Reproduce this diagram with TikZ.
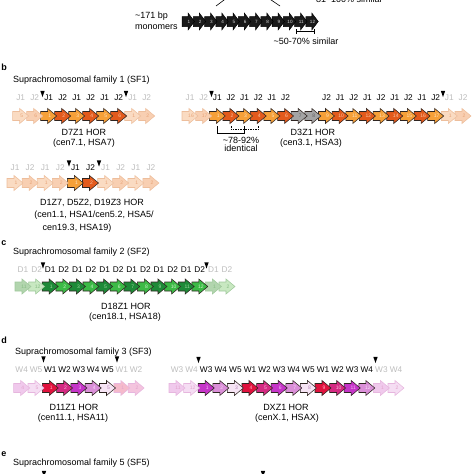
\documentclass[tikz,border=0pt]{standalone}
\usepackage{fontspec}
\setmainfont{Liberation Sans}
\definecolor{ink}{HTML}{2E2420}
\definecolor{labg}{HTML}{BDBDBD}
\definecolor{blk}{HTML}{1A1A1A}
% SF1 oranges
\definecolor{jA}{HTML}{F6A038}
\definecolor{jB}{HTML}{E35A1C}
\definecolor{jAf}{HTML}{FADBC2}
\definecolor{jBf}{HTML}{F8CFB2}
\definecolor{jfs}{HTML}{EDBE9C}
\definecolor{jfn}{HTML}{E8A478}
\definecolor{jAn}{HTML}{FDE2BE}
\definecolor{jBn}{HTML}{F9C3A2}
\definecolor{gry}{HTML}{A4A4A4}
\definecolor{gryn}{HTML}{5E5E5E}
% SF2 greens
\definecolor{dA}{HTML}{1E8A38}
\definecolor{dB}{HTML}{3CBA46}
\definecolor{dAf}{HTML}{B2D5AE}
\definecolor{dBf}{HTML}{C8E8C1}
\definecolor{dfs}{HTML}{9FC89B}
\definecolor{dfn}{HTML}{86BC83}
\definecolor{dAn}{HTML}{9EDCA0}
\definecolor{dBn}{HTML}{CFF2C8}
% SF3 pinks
\definecolor{wa}{HTML}{E0123E}
\definecolor{wb}{HTML}{D42A82}
\definecolor{wc}{HTML}{C535C8}
\definecolor{wd}{HTML}{DA8FD8}
\definecolor{we}{HTML}{F6E4F4}
\definecolor{wan}{HTML}{FFB3C2}
\definecolor{wbn}{HTML}{F8BADB}
\definecolor{wcn}{HTML}{F3B8F3}
\definecolor{wdn}{HTML}{F7DAF6}
\definecolor{wen}{HTML}{B884B8}
\definecolor{wfa}{HTML}{F0C9EC}
\definecolor{wfb}{HTML}{F5DDF3}
\definecolor{wfc}{HTML}{F5BACB}
\definecolor{wfd}{HTML}{F4C4DE}
\definecolor{wfs}{HTML}{E6B6DE}
\definecolor{wfn}{HTML}{E2A2CC}
\tikzset{
  lab/.style={font=\fontsize{8.3}{9}\selectfont, inner sep=0pt},
  txt/.style={font=\fontsize{9}{10}\selectfont, inner sep=0pt},
  num/.style={font=\fontsize{5}{5}\selectfont, inner sep=0pt},
  bnum/.style={font=\fontsize{4.6}{5}\selectfont, inner sep=0pt, text=white!85!black},
  panel/.style={font=\fontsize{9}{10}\selectfont\bfseries, inner sep=0pt},
}
\newcommand{\marrow}[7]{%
  \begin{scope}[shift={(#1,#2)}]
    \filldraw[fill=#3,draw=#4,line width=0.55pt,line join=miter]
      (-8,-4.5) -- (-1,-4.5) -- (-1,-7.5) -- (8,0) -- (-1,7.5) -- (-1,4.5) -- (-8,4.5) -- cycle;
    \node[num,text=#6] (#7) at (1,0) {#5};
  \end{scope}}
\newcommand{\barrow}[4]{%
  \begin{scope}[shift={(#1,#2)}]
    \filldraw[fill=blk,draw=black,line width=0.5pt,line join=miter]
      (-6,-5) -- (0,-5) -- (0,-8.5) -- (6.5,0) -- (0,8.5) -- (0,5) -- (-6,5) -- cycle;
    \node[bnum] (#4) at (0.8,0) {#3};
  \end{scope}}
\newcommand{\hmark}[3]{%
  \fill[black] (#1-2.2,#2-3.2) -- (#1+2.2,#2-3.2) -- (#1,#2+3) -- cycle;
  \coordinate (#3) at (#1,#2);}
\begin{document}
\begin{tikzpicture}[x=1pt,y=-1pt]
\useasboundingbox (0,0) rectangle (474,474);

% ---------------- panel a (cut off) ----------------
\coordinate (fanLa) at (226.5,-1.8);
\coordinate (fanLb) at (216,6);
\coordinate (fanRa) at (268.5,-1.8);
\coordinate (fanRb) at (280,6);
\draw[line width=0.6pt] (fanLa) -- (fanLb);
\draw[line width=0.6pt] (fanRa) -- (fanRb);
\node[txt, anchor=base west] (sim81) at (316,2.6) {81--100\% similar};
\node[txt, anchor=west] (bp) at (135,16) {\textasciitilde171 bp};
\node[txt, anchor=west] (mono) at (135,26.7) {monomers};
\foreach \i in {11,10,...,0}{
  \pgfmathtruncatemacro{\nn}{\i+1}
  \barrow{188+11.25*\i}{21.5}{\nn}{top\i}
}
\coordinate (brL) at (296,31.7);
\coordinate (brR) at (314,31.7);
\draw[line width=0.6pt] (brL) -- (brR);
\draw[line width=0.6pt] ([yshift=2.5pt]brL) -- ([yshift=-2.5pt]brL);
\draw[line width=0.6pt] ([yshift=2.5pt]brR) -- ([yshift=-2.5pt]brR);
\node[txt] (sim50) at (306,41.7) {\textasciitilde50-70\% similar};

% ---------------- panel b ----------------
\node[panel] (pb) at (4,67) {b};
\node[txt, anchor=west] (sf1) at (13,80) {Suprachromosomal family 1 (SF1)};

% D7Z1
\foreach \i/\n/\f/\s/\t in {9/2/jBf/jfs/jfn, 8/1/jAf/jfs/jfn, 7/6/jB/ink/jBn, 6/5/jA/ink/jAn, 5/4/jB/ink/jBn, 4/3/jA/ink/jAn, 3/2/jB/ink/jBn, 2/1/jA/ink/jAn, 1/6/jBf/jfs/jfn, 0/5/jAf/jfs/jfn}
  {\marrow{20.7+14*\i}{116}{\f}{\s}{\n}{\t}{ra\i}}
\foreach \i/\l/\c in {0/J1/labg, 1/J2/labg, 2/J1/black, 3/J2/black, 4/J1/black, 5/J2/black, 6/J1/black, 7/J2/black, 8/J1/labg, 9/J2/labg}
  {\node[lab, text=\c] (la\i) at (20.7+14*\i,98) {\l};}
\hmark{42.5}{94}{ma1}
\hmark{126}{94}{ma2}
\node[txt] (d7) at (84,132) {D7Z1 HOR};
\node[txt] (d7c) at (84,143.5) {(cen7.1, HSA7)};

% D3Z1
\foreach \i/\n/\f/\s/\t in {20/2/jBf/jfs/jfn, 19/1/jAf/jfs/jfn, 18/17/jA/ink/jAn, 17/16/jB/ink/jBn, 16/15/jA/ink/jAn, 15/14/jB/ink/jBn, 14/13/jA/ink/jAn, 13/12/jB/ink/jBn, 12/11/jA/ink/jAn, 11/10/jB/ink/jBn, 10/9/jA/ink/jAn, 9/8/gry/ink/gryn, 8/7/gry/ink/gryn, 7/6/jB/ink/jBn, 6/5/jA/ink/jAn, 5/4/jB/ink/jBn, 4/3/jA/ink/jAn, 3/2/jB/ink/jBn, 2/1/jA/ink/jAn, 1/17/jBf/jfs/jfn, 0/16/jAf/jfs/jfn}
  {\marrow{190+13.65*\i}{116}{\f}{\s}{\n}{\t}{rb\i}}
\foreach \i/\l/\c in {0/J1/labg, 1/J2/labg, 2/J1/black, 3/J2/black, 4/J1/black, 5/J2/black, 6/J1/black, 7/J2/black, 10/J2/black, 11/J1/black, 12/J2/black, 13/J1/black, 14/J2/black, 15/J1/black, 16/J2/black, 17/J1/black, 18/J2/black, 19/J1/labg, 20/J2/labg}
  {\node[lab, text=\c] (lb\i) at (190+13.65*\i,98) {\l};}
\hmark{211.5}{94}{mb1}
\hmark{443}{94}{mb2}
\coordinate (sA) at (217.3,126);
\coordinate (sB) at (244.6,126);
\coordinate (dA1) at (231,126);
\coordinate (dB1) at (258.3,126);
\draw[line width=0.5pt] (sA) -- ++(0,7.5) -| (sB);
\draw[line width=0.5pt, dashed, dash pattern=on 1.5pt off 1pt] (dA1) -- ++(0,3.5) -| (dB1);
\node[txt] (pct) at (241,140) {\textasciitilde78-92\%};
\node[txt] (idt) at (241,148.5) {identical};
\node[txt] (d3) at (313,132) {D3Z1 HOR};
\node[txt] (d3c) at (311,143.5) {(cen3.1, HSA3)};

% D1Z7
\foreach \i/\n/\f/\s/\t in {9/2/jBf/jfs/jfn, 8/1/jAf/jfs/jfn, 7/2/jBf/jfs/jfn, 6/1/jAf/jfs/jfn, 5/2/jB/ink/jBn, 4/1/jA/ink/jAn, 3/2/jBf/jfs/jfn, 2/1/jAf/jfs/jfn, 1/2/jBf/jfs/jfn, 0/1/jAf/jfs/jfn}
  {\marrow{15+15.1*\i}{183}{\f}{\s}{\n}{\t}{rc\i}}
\foreach \i/\l/\c in {0/J1/labg, 1/J2/labg, 2/J1/labg, 3/J2/labg, 4/J1/black, 5/J2/black, 6/J1/labg, 7/J2/labg, 8/J1/labg, 9/J2/labg}
  {\node[lab, text=\c] (lc\i) at (15+15.1*\i,167.5) {\l};}
\hmark{69}{163.5}{mc1}
\hmark{99}{163.5}{mc2}
\node[txt] (d1) at (92,203) {D1Z7, D5Z2, D19Z3 HOR};
\node[txt] (d1c) at (94,215.5) {(cen1.1, HSA1/cen5.2, HSA5/};
\node[txt] (d1d) at (77,228) {cen19.3, HSA19)};

% ---------------- panel c ----------------
\node[panel] (pc) at (4,243) {c};
\node[txt, anchor=west] (sf2) at (13,251.7) {Suprachromosomal family 2 (SF2)};
\foreach \i/\n/\f/\s/\t in {15/2/dBf/dfs/dfn, 14/1/dAf/dfs/dfn, 13/12/dB/ink/dBn, 12/11/dA/ink/dAn, 11/10/dB/ink/dBn, 10/9/dA/ink/dAn, 9/8/dB/ink/dBn, 8/7/dA/ink/dAn, 7/6/dB/ink/dBn, 6/5/dA/ink/dAn, 5/4/dB/ink/dBn, 4/3/dA/ink/dAn, 3/2/dB/ink/dBn, 2/1/dA/ink/dAn, 1/12/dBf/dfs/dfn, 0/11/dAf/dfs/dfn}
  {\marrow{23+13.6*\i}{286.5}{\f}{\s}{\n}{\t}{rd\i}}
\foreach \i/\l/\c in {0/D1/labg, 1/D2/labg, 2/D1/black, 3/D2/black, 4/D1/black, 5/D2/black, 6/D1/black, 7/D2/black, 8/D1/black, 9/D2/black, 10/D1/black, 11/D2/black, 12/D1/black, 13/D2/black, 14/D1/labg, 15/D2/labg}
  {\node[lab, text=\c] (ld\i) at (23+13.6*\i,270) {\l};}
\hmark{43}{265.5}{md1}
\hmark{206.5}{265.5}{md2}
\node[txt] (d18) at (126,306) {D18Z1 HOR};
\node[txt] (d18c) at (125,317.5) {(cen18.1, HSA18)};

% ---------------- panel d ----------------
\node[panel] (pd) at (4,340) {d};
\node[txt, anchor=west] (sf3) at (15,351.7) {Suprachromosomal family 3 (SF3)};
% D11Z1
\foreach \i/\n/\f/\s/\t in {8/2/wfd/wfs/wfn, 7/1/wfc/wfs/wfn, 6/5/we/ink/wen, 5/4/wd/ink/wdn, 4/3/wc/ink/wcn, 3/2/wb/ink/wbn, 2/1/wa/ink/wan, 1/5/wfb/wfs/wfn, 0/4/wfa/wfs/wfn}
  {\marrow{21.7+14.3*\i}{388}{\f}{\s}{\n}{\t}{re\i}}
\foreach \i/\l/\c in {0/W4/labg, 1/W5/labg, 2/W1/black, 3/W2/black, 4/W3/black, 5/W4/black, 6/W5/black, 7/W1/labg, 8/W2/labg}
  {\node[lab, text=\c] (le\i) at (21.7+14.3*\i,369.5) {\l};}
\hmark{43.5}{359.5}{me1}
\hmark{117}{359.5}{me2}
\node[txt] (d11) at (74,407) {D11Z1 HOR};
\node[txt] (d11c) at (73,418) {(cen11.1, HSA11)};
% DXZ1
\foreach \i/\n/\f/\s/\t in {15/2/wfb/wfs/wfn, 14/1/wfa/wfs/wfn, 13/12/wd/ink/wdn, 12/11/wc/ink/wcn, 11/10/wb/ink/wbn, 10/9/wa/ink/wan, 9/8/we/ink/wen, 8/7/wd/ink/wdn, 7/6/wc/ink/wcn, 6/5/wb/ink/wbn, 5/4/wa/ink/wan, 4/3/we/ink/wen, 3/2/wd/ink/wdn, 2/1/wc/ink/wcn, 1/12/wfb/wfs/wfn, 0/11/wfa/wfs/wfn}
  {\marrow{177+14.6*\i}{388}{\f}{\s}{\n}{\t}{rf\i}}
\foreach \i/\l/\c in {0/W3/labg, 1/W4/labg, 2/W3/black, 3/W4/black, 4/W5/black, 5/W1/black, 6/W2/black, 7/W3/black, 8/W4/black, 9/W5/black, 10/W1/black, 11/W2/black, 12/W3/black, 13/W4/black, 14/W3/labg, 15/W4/labg}
  {\node[lab, text=\c] (lf\i) at (177+14.6*\i,370) {\l};}
\hmark{198.5}{360}{mf1}
\hmark{375.5}{360}{mf2}
\node[txt] (dx) at (286,407) {DXZ1 HOR};
\node[txt] (dxc) at (287,418) {(cenX.1, HSAX)};

% ---------------- panel e ----------------
\node[panel] (pe) at (4,454) {e};
\node[txt, anchor=west] (sf5) at (13,463) {Suprachromosomal family 5 (SF5)};
\hmark{44}{474}{mg1}
\hmark{263}{474}{mg2}
\end{tikzpicture}
\end{document}
